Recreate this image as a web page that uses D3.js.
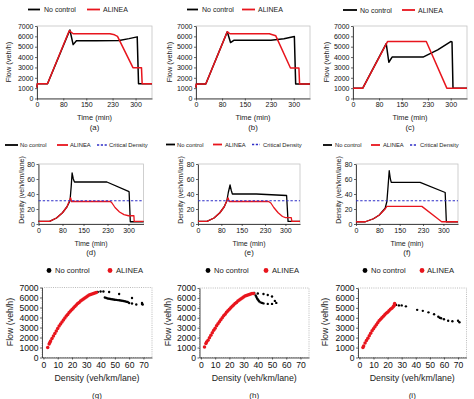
<!DOCTYPE html>
<html><head><meta charset="utf-8">
<script src="https://cdn.jsdelivr.net/npm/d3@7"></script>
<style>body{margin:0;background:#fff}svg{display:block}text{font-family:Arial,"Liberation Sans",sans-serif;font-weight:normal}</style>
</head><body><svg id="c" width="474" height="399"></svg>
<script>
// ---------- DATA ----------
const timeTicks = [0, 80, 150, 230, 300];
const flowTicks = [0, 1000, 2000, 3000, 4000, 5000, 6000, 7000];
const densTicks = [0, 20, 40, 60, 80];
const kTicks = [0, 10, 20, 30, 40, 50, 60, 70];
const criticalDensity = 31;

// Row 1: flow vs time [min, veh/h]
const flowA_noControl = [[0,1050],[1,1420],[32,1420],[100,6620],[110,5200],[120,5580],[180,5580],[250,5600],[280,5780],[305,5950],[309,1420],[350,1420]];
const flowA_alinea    = [[0,1050],[1,1420],[32,1420],[98,6550],[110,6250],[222,6250],[236,6150],[245,6000],[292,2980],[318,2980],[320,1420],[350,1420]];
const flowB_noControl = [[0,1050],[1,1400],[30,1400],[96,6450],[106,5400],[116,5620],[230,5620],[270,5760],[302,5980],[306,1400],[350,1400]];
const flowB_alinea    = [[0,1050],[1,1400],[30,1400],[96,6450],[104,6250],[225,6250],[245,6050],[290,2950],[316,2950],[318,1400],[350,1400]];
const flowC_noControl = [[0,1000],[30,1000],[102,5300],[110,3500],[120,4000],[215,4000],[260,4700],[300,5500],[304,5450],[307,1000],[350,1000]];
const flowC_alinea    = [[0,1000],[30,1000],[106,5500],[225,5500],[288,1000],[350,1000]];

// Row 2: density vs time [min, veh/km/lane]
const densD_noControl = [[0,3.5],[37,3.5],[60,8],[80,15],[95,23],[105,31],[109,50],[112,68],[116,60],[120,56],[228,56],[300,43.5],[302,43],[306,3],[350,3]];
const densD_alinea    = [[0,3.5],[37,3.5],[60,8],[80,15],[95,23],[103,31],[107,35],[110,30],[240,30],[245,28],[255,22],[270,16],[285,12.5],[300,11],[318,11],[319,3.5],[350,3.5]];
const densE_noControl = [[0,3.5],[31,3.5],[55,8],[75,15],[90,23],[99,31],[104,42],[110,52],[114,45],[118,40],[200,40],[304,38],[309,3.5],[350,3.5]];
const densE_alinea    = [[0,3.5],[31,3.5],[55,8],[75,15],[90,23],[99,31],[103,35],[107,30],[242,30],[250,28],[260,22],[275,15],[290,10],[300,8.5],[320,8.5],[322,3.5],[350,3.5]];
const densF_noControl = [[0,3],[32,3],[60,7],[80,12],[100,21],[106,30],[110,50],[114,71],[118,60],[121,55.5],[220,55.5],[306,42],[310,3],[350,3]];
const densF_alinea    = [[0,3],[32,3],[60,7],[80,12],[100,20],[106,23.5],[226,23.5],[294,3],[350,3]];

// Row 3: flow vs density scatter [veh/km/lane, veh/h]
const fdG_alinea = [[3,1000],[4,1350],[4.5,1500],[5,1650],[6,1900],[7,2150],[8,2400],[9,2650],[10,2900],[11,3150],[12,3350],[13,3550],[14,3750],[15,3950],[16,4150],[17,4300],[18,4500],[19,4650],[20,4800],[21,4950],[22,5100],[23,5250],[24,5400],[25,5500],[26,5650],[27,5750],[28,5850],[29,5950],[30,6050],[31,6150],[32,6250],[33,6300],[34,6350],[35,6400],[36,6450],[37,6500]];
const fdG_noControl = [[38,6550],[40,6600],[42,6600],[46,6550],[53,6350],[62,5950],[43,6000],[44,5950],[45,5900],[46,5880],[47,5850],[48,5830],[49,5800],[50,5780],[51,5760],[52,5740],[53,5720],[54,5700],[55,5680],[56,5650],[57,5620],[58,5580],[59,5550],[60,5450],[62,5400],[65,5300],[69,5450],[69,5350],[69.5,5300]];
const fdH_alinea = [[2.5,1050],[3.5,1400],[4,1550],[5,1750],[6,2000],[7,2250],[8,2500],[9,2750],[10,2950],[11,3200],[12,3400],[13,3600],[14,3800],[15,4000],[16,4200],[17,4350],[18,4550],[19,4700],[20,4850],[21,5000],[22,5150],[23,5300],[24,5450],[25,5550],[26,5700],[27,5800],[28,5900],[29,6000],[30,6100],[31,6200],[32,6250],[33,6300],[34,6350],[35,6400],[36,6450],[37,6450]];
const fdH_noControl = [[37.5,6500],[40,6450],[44,6400],[47,6300],[50,6150],[52,5700],[53,5500],[50,5400],[47,5400],[44,5450],[43,5500],[42,5550],[41,5650],[40.5,5750],[40,5850],[39.5,5950],[39,6100],[38.5,6250]];
const fdI_alinea = [[2.5,1000],[3,1150],[4,1450],[5,1700],[6,1950],[7,2200],[8,2450],[9,2700],[10,2900],[11,3100],[12,3300],[13,3500],[14,3700],[15,3850],[16,4000],[17,4150],[18,4300],[19,4450],[20,4550],[21,4700],[22,4850],[23,4950],[24,5100],[24.5,5200],[25,5300],[25,5450]];
const fdI_noControl = [[26,5300],[28,5250],[30,5250],[33,5150],[41,4800],[45,4700],[49,4550],[53,4350],[56,4100],[57,4000],[58,3950],[60,3850],[63,3700],[66,3650],[70,3700],[71,3550]];

const legendFlow = ["No control", "ALINEA"];
const legendDens = ["No control", "ALINEA", "Critical Density"];
const panelLabels = ["(a)","(b)","(c)","(d)","(e)","(f)","(g)","(h)","(i)"];

// ---------- DRAWING ----------
const BLACK = "#000", RED = "#e8151d", BLUE = "#2f2fc8";
const svg = d3.select("#c");
const fmt = d3.format("d");

function frameAndAxes(g, x, y, box, opt) {
  g.append("rect").attr("x", box.L).attr("y", box.T).attr("width", box.R - box.L).attr("height", box.B - box.T)
    .attr("fill", "none").attr("stroke", opt.dotted ? "#a8a8a8" : "#c4c4c4").attr("stroke-width", 0.8)
    .attr("stroke-dasharray", opt.dotted ? "1,1.2" : null);
  const ax = g.append("g").attr("transform", `translate(0,${box.B})`)
    .call(d3.axisBottom(x).tickValues(opt.xt).tickFormat(fmt).tickSize(2).tickSizeOuter(0).tickPadding(opt.xpad));
  const ay = g.append("g").attr("transform", `translate(${box.L},0)`)
    .call(d3.axisLeft(y).tickValues(opt.yt).tickFormat(fmt).tickSize(2).tickSizeOuter(0).tickPadding(1.5));
  [ax, ay].forEach(a => {
    a.selectAll("text").attr("font-size", opt.fs).attr("fill", "#111").attr("font-family", "Arial, Liberation Sans, sans-serif");
    a.select(".domain").attr("stroke", "#222").attr("stroke-width", 0.8);
    a.selectAll(".tick line").attr("stroke", "#222").attr("stroke-width", 0.7);
  });
  const cx = (box.L + box.R) / 2;
  g.append("text").attr("x", cx).attr("y", opt.xtY).attr("text-anchor", "middle").attr("font-size", opt.tfs).attr("fill", "#222").text(opt.xtitle);
  g.append("text").attr("transform", `translate(${opt.ytX},${opt.ytCY}) rotate(-90)`).attr("text-anchor", "middle")
    .attr("dominant-baseline", "central").attr("font-size", opt.tfs).attr("fill", "#222").text(opt.ytitle);
  g.append("text").attr("x", cx).attr("y", opt.labY).attr("text-anchor", "middle").attr("font-size", opt.lfs)
    .attr("font-family", opt.serif ? "Liberation Serif, DejaVu Serif, serif" : "Arial, Liberation Sans, sans-serif")
    .attr("font-weight", opt.bold ? "bold" : "normal").attr("fill", "#222").text(opt.label);
}

function lineLegend(g, items, y, fs) {
  items.forEach(it => {
    g.append("line").attr("x1", it.x1).attr("x2", it.x2).attr("y1", y).attr("y2", y).attr("stroke", it.c)
      .attr("stroke-width", it.dash ? 1.3 : 1.8).attr("stroke-dasharray", it.dash ? "2.2,1.6" : null);
    g.append("text").attr("x", it.tx).attr("y", y).attr("dominant-baseline", "central").attr("font-size", fs).attr("fill", "#222").text(it.t);
  });
}

function timePanel(box, yDomain, yTicks, series, opt) {
  const g = svg.append("g");
  const x = d3.scaleLinear().domain([0, 350]).range([box.L, box.R]);
  const y = d3.scaleLinear().domain(yDomain).range([box.B, box.T]);
  frameAndAxes(g, x, y, box, Object.assign({xt: timeTicks, yt: yTicks, xtitle: "Time (min)"}, opt));
  const line = d3.line().x(d => x(d[0])).y(d => y(d[1]));
  series.forEach(s => g.append("path").attr("d", line(s.d)).attr("fill", "none").attr("stroke", s.c)
    .attr("stroke-width", opt.lw).attr("stroke-linejoin", "round"));
  if (opt.crit) {
    g.append("line").attr("x1", box.L).attr("x2", box.R).attr("y1", y(criticalDensity)).attr("y2", y(criticalDensity))
      .attr("stroke", BLUE).attr("stroke-width", 1.2).attr("stroke-dasharray", "2.4,1.8");
  }
  return g;
}

function scatterPanel(box, nc, al, opt) {
  const g = svg.append("g");
  const x = d3.scaleLinear().domain([-1, 76]).range([box.L, box.R]);
  const y = d3.scaleLinear().domain([0, 7000]).range([box.B, box.T]);
  frameAndAxes(g, x, y, box, Object.assign({xt: kTicks, yt: flowTicks, xtitle: "Density (veh/km/lane)", ytitle: "Flow (veh/h)", dotted: true}, opt));
  g.selectAll(".nc").data(nc).join("circle").attr("cx", d => x(d[0])).attr("cy", d => y(d[1])).attr("r", 1.2).attr("fill", BLACK);
  g.selectAll(".al").data(al).join("circle").attr("cx", d => x(d[0])).attr("cy", d => y(d[1])).attr("r", 1.75).attr("fill", RED);
  const ly = opt.legY;
  g.append("circle").attr("cx", opt.leg[0]).attr("cy", ly).attr("r", 2.4).attr("fill", BLACK);
  g.append("text").attr("x", opt.leg[1]).attr("y", ly).attr("dominant-baseline", "central").attr("font-size", 7.6).attr("fill", "#222").text(legendFlow[0]);
  g.append("circle").attr("cx", opt.leg[2]).attr("cy", ly).attr("r", 2.4).attr("fill", RED);
  g.append("text").attr("x", opt.leg[3]).attr("y", ly).attr("dominant-baseline", "central").attr("font-size", 7.6).attr("fill", "#222").text(legendFlow[1]);
}

// Row 1
const r1 = {fs: 7, tfs: 7.4, lfs: 7.8, xpad: 2, xtY: 119.5, labY: 130, ytitle: "Flow (veh/h)", ytCY: 62, lw: 1.5};
const gA = timePanel({L:37, R:152, T:26, B:98.5}, [0,7000], flowTicks,
  [{d: flowA_noControl, c: BLACK}, {d: flowA_alinea, c: RED}], Object.assign({}, r1, {ytX: 8.5, label: panelLabels[0]}));
lineLegend(gA, [{x1:28,x2:40,tx:44,c:BLACK,t:legendFlow[0]},{x1:87,x2:100,tx:103,c:RED,t:legendFlow[1]}], 9.5, 7);
const gB = timePanel({L:196, R:310, T:26, B:98.5}, [0,7000], flowTicks,
  [{d: flowB_noControl, c: BLACK}, {d: flowB_alinea, c: RED}], Object.assign({}, r1, {ytX: 169, label: panelLabels[1], serif: true, bold: true}));
lineLegend(gB, [{x1:187,x2:198,tx:202,c:BLACK,t:legendFlow[0]},{x1:242,x2:255,tx:258,c:RED,t:legendFlow[1]}], 9.5, 7);
const gC = timePanel({L:353, R:467, T:26, B:98.5}, [0,7000], flowTicks,
  [{d: flowC_noControl, c: BLACK}, {d: flowC_alinea, c: RED}], Object.assign({}, r1, {ytX: 326.5, label: panelLabels[2]}));
lineLegend(gC, [{x1:343,x2:357,tx:360,c:BLACK,t:legendFlow[0]},{x1:402,x2:415,tx:418,c:RED,t:legendFlow[1]}], 10, 7);

// Row 2
const r2 = {fs: 7, tfs: 7, lfs: 7.8, xpad: 2.5, xtY: 245.5, labY: 255, ytitle: "Density (veh/km/lane)", ytCY: 190, lw: 1.3, crit: true};
const gD = timePanel({L:38.5, R:143.5, T:164, B:224}, [0,80], densTicks,
  [{d: densD_noControl, c: BLACK}, {d: densD_alinea, c: RED}], Object.assign({}, r2, {ytX: 21.5, label: panelLabels[3], serif: true, bold: true}));
lineLegend(gD, [{x1:5,x2:18,tx:20,c:BLACK,t:legendDens[0]},{x1:57,x2:68,tx:70,c:RED,t:legendDens[1]},{x1:97,x2:107,tx:109,c:BLUE,t:legendDens[2],dash:true}], 145, 5.8);
const gE = timePanel({L:198, R:300, T:164, B:224}, [0,80], densTicks,
  [{d: densE_noControl, c: BLACK}, {d: densE_alinea, c: RED}], Object.assign({}, r2, {ytX: 180, label: panelLabels[4], serif: true, bold: true}));
lineLegend(gE, [{x1:166,x2:175,tx:177,c:BLACK,t:legendDens[0]},{x1:213,x2:222,tx:225,c:RED,t:legendDens[1]},{x1:252,x2:260,tx:263,c:BLUE,t:legendDens[2],dash:true}], 144.5, 5.8);
const gF = timePanel({L:356, R:458, T:164, B:224}, [0,80], densTicks,
  [{d: densF_noControl, c: BLACK}, {d: densF_alinea, c: RED}], Object.assign({}, r2, {ytX: 338, label: panelLabels[5]}));
lineLegend(gF, [{x1:323,x2:332,tx:335,c:BLACK,t:legendDens[0]},{x1:371,x2:380,tx:383,c:RED,t:legendDens[1]},{x1:410,x2:417,tx:420,c:BLUE,t:legendDens[2],dash:true}], 145, 5.8);

// Row 3
const r3 = {fs: 8.6, tfs: 8.8, lfs: 8, xpad: 2.5, xtY: 381, labY: 397.5, ytCY: 322, legY: 270.5};
scatterPanel({L:42, R:152, T:287.5, B:357.5}, fdG_noControl, fdG_alinea, Object.assign({}, r3, {ytX: 10, label: panelLabels[6], leg: [49, 55, 110, 116]}));
scatterPanel({L:199.5, R:309, T:288, B:357.5}, fdH_noControl, fdH_alinea, Object.assign({}, r3, {ytX: 168, label: panelLabels[7], serif: true, bold: true, leg: [208, 214, 266, 272]}));
scatterPanel({L:358, R:466.5, T:288, B:357.5}, fdI_noControl, fdI_alinea, Object.assign({}, r3, {ytX: 325, label: panelLabels[8], serif: true, leg: [365, 371, 422, 427]}));
</script></body></html>
